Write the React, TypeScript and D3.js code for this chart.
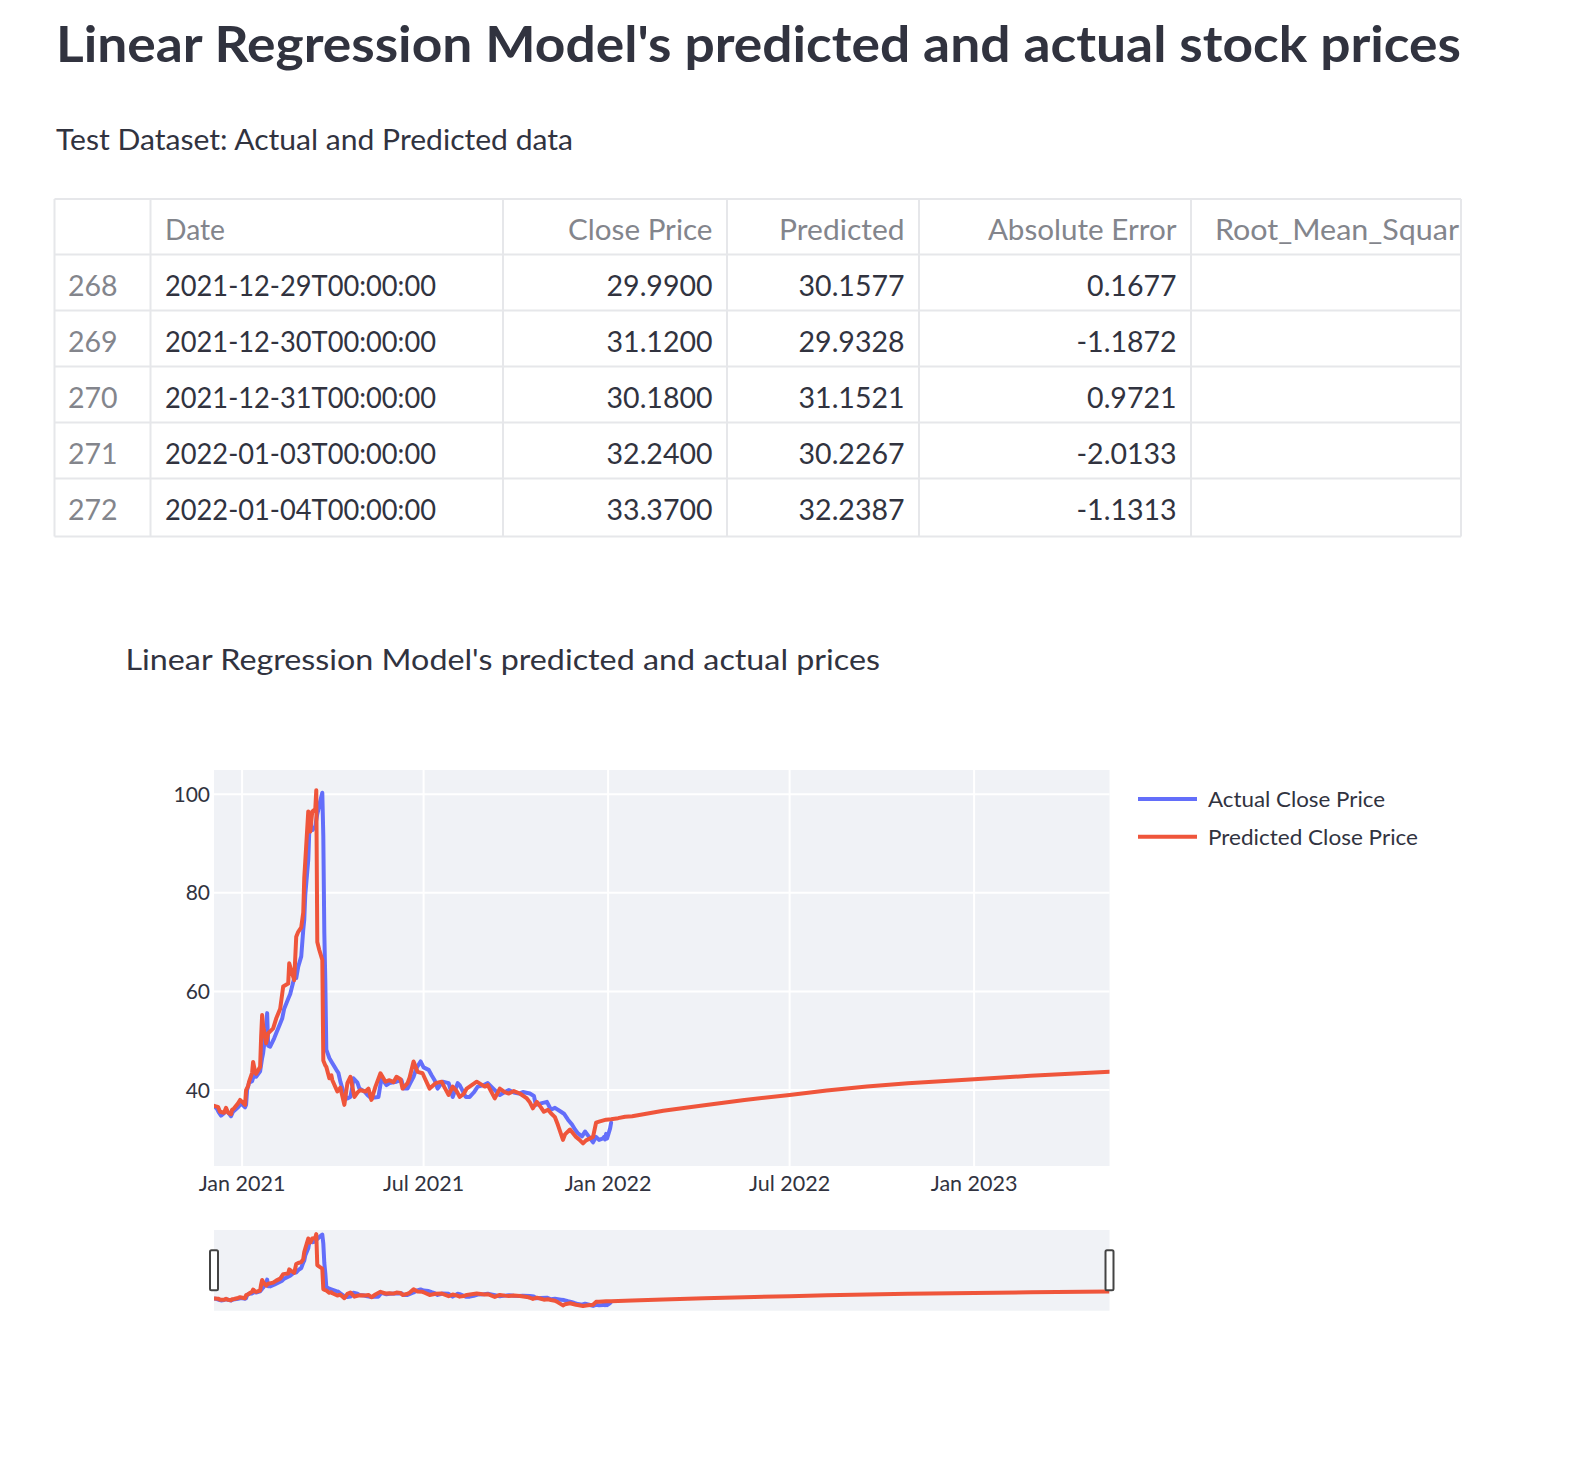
import React from "react";
import * as d3 from "d3";

// ---------- text ----------
const PAGE_TITLE = "Linear Regression Model's predicted and actual stock prices";
const SUBTITLE = "Test Dataset: Actual and Predicted data";
const CHART_TITLE = "Linear Regression Model's predicted and actual prices";
const seriesNames = ["Actual Close Price", "Predicted Close Price"];

// ---------- table ----------
const tableColumns = ["", "Date", "Close Price", "Predicted", "Absolute Error", "Root_Mean_Squar"];
const tableIndex = ["268", "269", "270", "271", "272"];
const tableDates = [
  "2021-12-29T00:00:00",
  "2021-12-30T00:00:00",
  "2021-12-31T00:00:00",
  "2022-01-03T00:00:00",
  "2022-01-04T00:00:00",
];
const tableClose = ["29.9900", "31.1200", "30.1800", "32.2400", "33.3700"];
const tablePredicted = ["30.1577", "29.9328", "31.1521", "30.2267", "32.2387"];
const tableAbsError = ["0.1677", "-1.1872", "0.9721", "-2.0133", "-1.1313"];

// ---------- chart data ----------
const actualSeries: [string, number][] = [
  ["2020-12-04", 36.8], ["2020-12-07", 36.2], ["2020-12-09", 35.4], ["2020-12-11", 34.8],
  ["2020-12-14", 35.3], ["2020-12-16", 35.9], ["2020-12-18", 35.5], ["2020-12-21", 34.7],
  ["2020-12-23", 35.6], ["2020-12-28", 36.5], ["2020-12-30", 37.0], ["2020-12-31", 37.3],
  ["2021-01-04", 36.5], ["2021-01-05", 37.0], ["2021-01-06", 40.0], ["2021-01-08", 41.5],
  ["2021-01-11", 41.8], ["2021-01-13", 43.2], ["2021-01-15", 42.7], ["2021-01-19", 43.8],
  ["2021-01-21", 46.5], ["2021-01-22", 47.5], ["2021-01-25", 52.5], ["2021-01-26", 55.6],
  ["2021-01-27", 49.0], ["2021-01-29", 48.8], ["2021-02-02", 50.5], ["2021-02-04", 51.5],
  ["2021-02-08", 53.5], ["2021-02-10", 54.5], ["2021-02-12", 56.5], ["2021-02-16", 58.5],
  ["2021-02-18", 59.5], ["2021-02-22", 62.7], ["2021-02-24", 62.7], ["2021-02-26", 65.0],
  ["2021-03-01", 67.1], ["2021-03-03", 72.5], ["2021-03-04", 74.5], ["2021-03-05", 79.5],
  ["2021-03-08", 86.7], ["2021-03-09", 92.4], ["2021-03-10", 93.0], ["2021-03-11", 93.5],
  ["2021-03-12", 92.7], ["2021-03-15", 93.4], ["2021-03-16", 94.8], ["2021-03-17", 96.0],
  ["2021-03-18", 96.8], ["2021-03-19", 97.8], ["2021-03-22", 100.3], ["2021-03-23", 91.5],
  ["2021-03-24", 72.0], ["2021-03-25", 62.0], ["2021-03-26", 48.2], ["2021-03-29", 46.5],
  ["2021-03-31", 45.8], ["2021-04-05", 44.1], ["2021-04-07", 43.5], ["2021-04-09", 41.7],
  ["2021-04-13", 39.0], ["2021-04-16", 38.3], ["2021-04-19", 38.6], ["2021-04-21", 40.7],
  ["2021-04-22", 42.4], ["2021-04-26", 41.5], ["2021-04-28", 40.3], ["2021-05-03", 39.7],
  ["2021-05-06", 39.0], ["2021-05-10", 38.3], ["2021-05-13", 38.5], ["2021-05-17", 38.6],
  ["2021-05-20", 42.4], ["2021-05-25", 41.0], ["2021-05-28", 41.4], ["2021-06-04", 41.7],
  ["2021-06-09", 42.0], ["2021-06-11", 40.3], ["2021-06-15", 40.3], ["2021-06-18", 41.5],
  ["2021-06-21", 42.7], ["2021-06-24", 44.5], ["2021-06-28", 45.8], ["2021-07-01", 44.6],
  ["2021-07-06", 44.1], ["2021-07-09", 43.0], ["2021-07-12", 42.0], ["2021-07-15", 40.3],
  ["2021-07-20", 41.7], ["2021-07-26", 41.4], ["2021-07-30", 38.6], ["2021-08-04", 41.4],
  ["2021-08-06", 41.0], ["2021-08-12", 38.6], ["2021-08-16", 38.6], ["2021-08-20", 39.5],
  ["2021-08-24", 40.7], ["2021-08-30", 41.0], ["2021-09-03", 41.4], ["2021-09-09", 40.2],
  ["2021-09-15", 39.0], ["2021-09-20", 39.6], ["2021-09-24", 40.0], ["2021-09-29", 39.5],
  ["2021-10-04", 39.3], ["2021-10-08", 39.6], ["2021-10-15", 39.3], ["2021-10-19", 38.8],
  ["2021-10-21", 37.0], ["2021-10-26", 37.3], ["2021-11-01", 37.6], ["2021-11-05", 36.0],
  ["2021-11-09", 36.4], ["2021-11-15", 35.6], ["2021-11-18", 35.2], ["2021-11-22", 34.0],
  ["2021-11-26", 33.0], ["2021-11-29", 32.0], ["2021-12-02", 31.2], ["2021-12-06", 30.6],
  ["2021-12-09", 31.6], ["2021-12-13", 30.5], ["2021-12-15", 29.9], ["2021-12-17", 29.4],
  ["2021-12-20", 30.5], ["2021-12-23", 29.9], ["2021-12-27", 30.2], ["2021-12-28", 30.5],
  ["2021-12-29", 29.99], ["2021-12-30", 31.12], ["2021-12-31", 30.18], ["2022-01-03", 32.24],
  ["2022-01-04", 33.37],
];

const predictedSeries: [string, number][] = [
  ["2020-12-04", 36.8], ["2020-12-08", 36.6], ["2020-12-10", 35.6], ["2020-12-14", 35.4],
  ["2020-12-16", 36.4], ["2020-12-18", 35.4], ["2020-12-21", 35.1], ["2020-12-22", 36.0],
  ["2020-12-24", 36.3], ["2020-12-28", 37.3], ["2020-12-30", 38.0], ["2021-01-04", 37.0],
  ["2021-01-05", 40.0], ["2021-01-07", 40.8], ["2021-01-08", 41.7], ["2021-01-11", 43.5],
  ["2021-01-12", 45.7], ["2021-01-14", 43.7], ["2021-01-15", 43.3], ["2021-01-19", 44.7],
  ["2021-01-20", 50.8], ["2021-01-21", 55.2], ["2021-01-22", 53.0], ["2021-01-25", 49.5],
  ["2021-01-27", 51.5], ["2021-02-01", 52.5], ["2021-02-04", 54.5], ["2021-02-08", 56.5],
  ["2021-02-11", 61.0], ["2021-02-16", 61.6], ["2021-02-17", 65.7], ["2021-02-19", 64.3],
  ["2021-02-22", 62.3], ["2021-02-24", 71.1], ["2021-02-26", 72.1], ["2021-03-01", 73.0],
  ["2021-03-03", 76.0], ["2021-03-04", 83.0], ["2021-03-05", 86.3], ["2021-03-08", 96.5],
  ["2021-03-10", 92.4], ["2021-03-12", 96.5], ["2021-03-15", 97.0], ["2021-03-16", 100.8],
  ["2021-03-17", 70.0], ["2021-03-19", 68.4], ["2021-03-22", 66.4], ["2021-03-23", 46.0],
  ["2021-03-25", 45.0], ["2021-03-26", 44.7], ["2021-03-29", 42.4], ["2021-03-31", 43.0],
  ["2021-04-01", 42.0], ["2021-04-06", 39.7], ["2021-04-09", 40.5], ["2021-04-13", 37.0],
  ["2021-04-16", 41.4], ["2021-04-19", 42.7], ["2021-04-23", 38.6], ["2021-04-26", 39.5],
  ["2021-04-29", 40.0], ["2021-05-04", 39.7], ["2021-05-07", 40.3], ["2021-05-10", 38.0],
  ["2021-05-14", 40.7], ["2021-05-19", 43.4], ["2021-05-24", 41.7], ["2021-05-28", 42.0],
  ["2021-06-01", 41.6], ["2021-06-04", 42.7], ["2021-06-08", 42.2], ["2021-06-10", 40.3],
  ["2021-06-15", 41.4], ["2021-06-17", 42.5], ["2021-06-21", 45.8], ["2021-06-25", 43.7],
  ["2021-06-30", 43.4], ["2021-07-02", 42.5], ["2021-07-07", 40.3], ["2021-07-13", 41.4],
  ["2021-07-19", 41.7], ["2021-07-22", 40.5], ["2021-07-26", 39.0], ["2021-07-30", 40.7],
  ["2021-08-03", 39.8], ["2021-08-06", 38.6], ["2021-08-10", 39.2], ["2021-08-13", 40.3],
  ["2021-08-23", 41.7], ["2021-08-31", 40.7], ["2021-09-03", 41.0], ["2021-09-10", 38.3],
  ["2021-09-15", 40.3], ["2021-09-20", 39.6], ["2021-09-24", 39.3], ["2021-09-29", 39.8],
  ["2021-10-05", 39.3], ["2021-10-12", 38.3], ["2021-10-15", 37.5], ["2021-10-18", 36.3],
  ["2021-10-22", 37.6], ["2021-10-26", 36.5], ["2021-10-29", 35.6], ["2021-11-02", 36.0],
  ["2021-11-05", 35.3], ["2021-11-09", 34.5], ["2021-11-12", 32.9], ["2021-11-17", 29.9],
  ["2021-11-19", 31.0], ["2021-11-24", 32.0], ["2021-11-30", 30.5], ["2021-12-03", 30.0],
  ["2021-12-07", 29.2], ["2021-12-10", 29.8], ["2021-12-14", 30.2], ["2021-12-17", 30.5],
  ["2021-12-20", 33.4], ["2021-12-23", 33.6], ["2021-12-30", 34.0], ["2022-01-04", 34.1],
  ["2022-01-11", 34.3], ["2022-01-18", 34.6], ["2022-01-25", 34.7], ["2022-02-25", 35.8],
  ["2022-04-07", 36.9], ["2022-05-17", 38.0], ["2022-07-01", 39.0], ["2022-08-07", 39.9],
  ["2022-09-16", 40.7], ["2022-10-27", 41.4], ["2023-01-01", 42.2], ["2023-02-26", 42.9],
  ["2023-05-16", 43.7],
];

const xTickDates = ["2021-01-01", "2021-07-01", "2022-01-01", "2022-07-01", "2023-01-01"];
const xTickLabels = ["Jan 2021", "Jul 2021", "Jan 2022", "Jul 2022", "Jan 2023"];
const yTicks = [40, 60, 80, 100];
const yAxisRange = [24.6, 104.9];

// ---------- styling ----------
const FONT = "Lato, 'Source Sans Pro', 'Noto Sans', sans-serif";
const TEXT = "#31333F";
const GRAY = "#83858c";
const BORDER = "#e6e7ea";
const PLOT_BG = "#f0f2f6";
const COLORS = ["#636EFA", "#EF553B"];

type Pt = { date: Date; value: number };

export default function App() {
  const parse = d3.utcParse("%Y-%m-%d");
  const actual: Pt[] = actualSeries.map(([d, v]) => ({ date: parse(d) as Date, value: v }));
  const predicted: Pt[] = predictedSeries.map(([d, v]) => ({ date: parse(d) as Date, value: v }));

  const plot = { left: 214, right: 1109.5, top: 770, bottom: 1166 };
  const slider = { top: 1230, bottom: 1310.7 };

  const xDomain = d3.extent([...actual, ...predicted], (d) => d.date) as [Date, Date];
  const x = d3.scaleUtc().domain(xDomain).range([plot.left, plot.right]);
  const y = d3.scaleLinear().domain(yAxisRange).range([plot.bottom, plot.top]);
  const ys = d3.scaleLinear().domain(yAxisRange).range([slider.bottom, slider.top]);

  const line = d3.line<Pt>().x((d) => x(d.date)).y((d) => y(d.value));
  const lineS = d3.line<Pt>().x((d) => x(d.date)).y((d) => ys(d.value));

  const series = [actual, predicted];

  // table geometry
  const colEdges = [54.5, 150.5, 503, 727, 919, 1191, 1461];
  const rowEdges = [199, 254.5, 310.5, 366.5, 422.5, 478.5, 536.5];
  const headerBaseline = 240;
  const rowBaselines = [296, 352, 408, 464, 520];
  const pad = 14.5;
  const headerWidths = [0, 60, 144.4, 125.4, 188.6, 244];

  const rows = tableIndex.map((idx, i) => [idx, tableDates[i], tableClose[i], tablePredicted[i], tableAbsError[i]]);

  return (
    <svg
      width={1590}
      height={1462}
      style={{ position: "absolute", left: 0, top: 0, background: "#fff" }}
      fontFamily={FONT}
    >
      <defs>
        <clipPath id="plotClip">
          <rect x={plot.left} y={plot.top} width={plot.right - plot.left} height={plot.bottom - plot.top} />
        </clipPath>
        <clipPath id="sliderClip">
          <rect x={plot.left} y={slider.top} width={plot.right - plot.left} height={slider.bottom - slider.top} />
        </clipPath>
        <clipPath id="tableClip">
          <rect x={colEdges[0]} y={rowEdges[0]} width={colEdges[6] - colEdges[0] - 1} height={rowEdges[6] - rowEdges[0]} />
        </clipPath>
      </defs>

      {/* Titles */}
      <text x={56} y={62} fontSize={50} fontWeight={700} fill={TEXT} textLength={1405} lengthAdjust="spacingAndGlyphs">
        {PAGE_TITLE}
      </text>
      <text x={56} y={150} fontSize={28} fill={TEXT} textLength={517} lengthAdjust="spacingAndGlyphs">
        {SUBTITLE}
      </text>

      {/* Table */}
      <g>
        {rowEdges.map((ry, i) => (
          <line key={"r" + i} x1={colEdges[0]} x2={colEdges[6]} y1={ry} y2={ry} stroke={BORDER} strokeWidth={2} />
        ))}
        {colEdges.map((cx, i) => (
          <line key={"c" + i} x1={cx} x2={cx} y1={rowEdges[0]} y2={rowEdges[6]} stroke={BORDER} strokeWidth={2} />
        ))}
        <g clipPath="url(#tableClip)" fontSize={28.5}>
          {tableColumns.map((c, i) => {
            if (!c) return null;
            const right = i >= 2 && i <= 4;
            const xPos = right ? colEdges[i + 1] - pad : i === 5 ? colEdges[i] + 24 : colEdges[i] + pad;
            const tl = headerWidths[i];
            return (
              <text
                key={"h" + i}
                x={xPos}
                y={headerBaseline}
                fill={GRAY}
                textAnchor={right ? "end" : "start"}
                {...(tl ? { textLength: tl, lengthAdjust: "spacingAndGlyphs" } : {})}
              >
                {c}
              </text>
            );
          })}
          {rows.map((r, ri) =>
            r.map((cell, ci) => {
              const right = ci >= 2;
              const xPos = right ? colEdges[ci + 1] - pad : ci === 0 ? colEdges[0] + 13.5 : colEdges[ci] + pad;
              return (
                <text
                  key={ri + "-" + ci}
                  x={xPos}
                  y={rowBaselines[ri]}
                  fill={ci === 0 ? GRAY : TEXT}
                  textAnchor={right ? "end" : "start"}
                  {...(ci === 1 ? { textLength: 271, lengthAdjust: "spacingAndGlyphs" } : {})}
                >
                  {cell}
                </text>
              );
            })
          )}
        </g>
      </g>

      {/* Chart title */}
      <text x={125.5} y={669.5} fontSize={29.5} fill={TEXT} textLength={754.5} lengthAdjust="spacingAndGlyphs">
        {CHART_TITLE}
      </text>

      {/* Plot area */}
      <rect x={plot.left} y={plot.top} width={plot.right - plot.left} height={plot.bottom - plot.top} fill={PLOT_BG} />
      {yTicks.map((t) => (
        <line key={"gy" + t} x1={plot.left} x2={plot.right} y1={y(t)} y2={y(t)} stroke="#fff" strokeWidth={2} />
      ))}
      {xTickDates.map((d) => {
        const px = x(parse(d) as Date);
        return <line key={"gx" + d} x1={px} x2={px} y1={plot.top} y2={plot.bottom} stroke="#fff" strokeWidth={2} />;
      })}
      <g clipPath="url(#plotClip)">
        {series.map((s, i) => (
          <path
            key={"s" + i}
            d={line(s) || ""}
            fill="none"
            stroke={COLORS[i]}
            strokeWidth={4}
            strokeLinejoin="round"
            strokeLinecap="round"
          />
        ))}
      </g>

      {/* Axis labels */}
      {yTicks.map((t) => (
        <text key={"ty" + t} x={210} y={y(t)} dy="0.36em" textAnchor="end" fontSize={21} fill={TEXT}>
          {t}
        </text>
      ))}
      {xTickDates.map((d, i) => (
        <text key={"tx" + d} x={x(parse(d) as Date)} y={1191} textAnchor="middle" fontSize={21.5} fill={TEXT}>
          {xTickLabels[i]}
        </text>
      ))}

      {/* Legend */}
      {seriesNames.map((n, i) => (
        <g key={"lg" + i}>
          <line x1={1138} x2={1197} y1={799 + i * 37.7} y2={799 + i * 37.7} stroke={COLORS[i]} strokeWidth={4} />
          <text
            x={1208}
            y={807.3 + i * 37.7}
            fontSize={21.5}
            fill={TEXT}
            textLength={i === 0 ? 177 : 210}
            lengthAdjust="spacingAndGlyphs"
          >
            {n}
          </text>
        </g>
      ))}

      {/* Range slider */}
      <rect x={plot.left} y={slider.top} width={plot.right - plot.left} height={slider.bottom - slider.top} fill={PLOT_BG} />
      <g clipPath="url(#sliderClip)">
        {series.map((s, i) => (
          <path key={"ss" + i} d={lineS(s) || ""} fill="none" stroke={COLORS[i]} strokeWidth={4} strokeLinejoin="round" />
        ))}
      </g>
      {[plot.left, plot.right].map((hx, i) => (
        <rect
          key={"h" + i}
          x={hx - 4}
          y={(slider.top + slider.bottom) / 2 - 20}
          width={8}
          height={40}
          rx={1.5}
          fill="#fff"
          stroke="#444"
          strokeWidth={2}
        />
      ))}
    </svg>
  );
}
